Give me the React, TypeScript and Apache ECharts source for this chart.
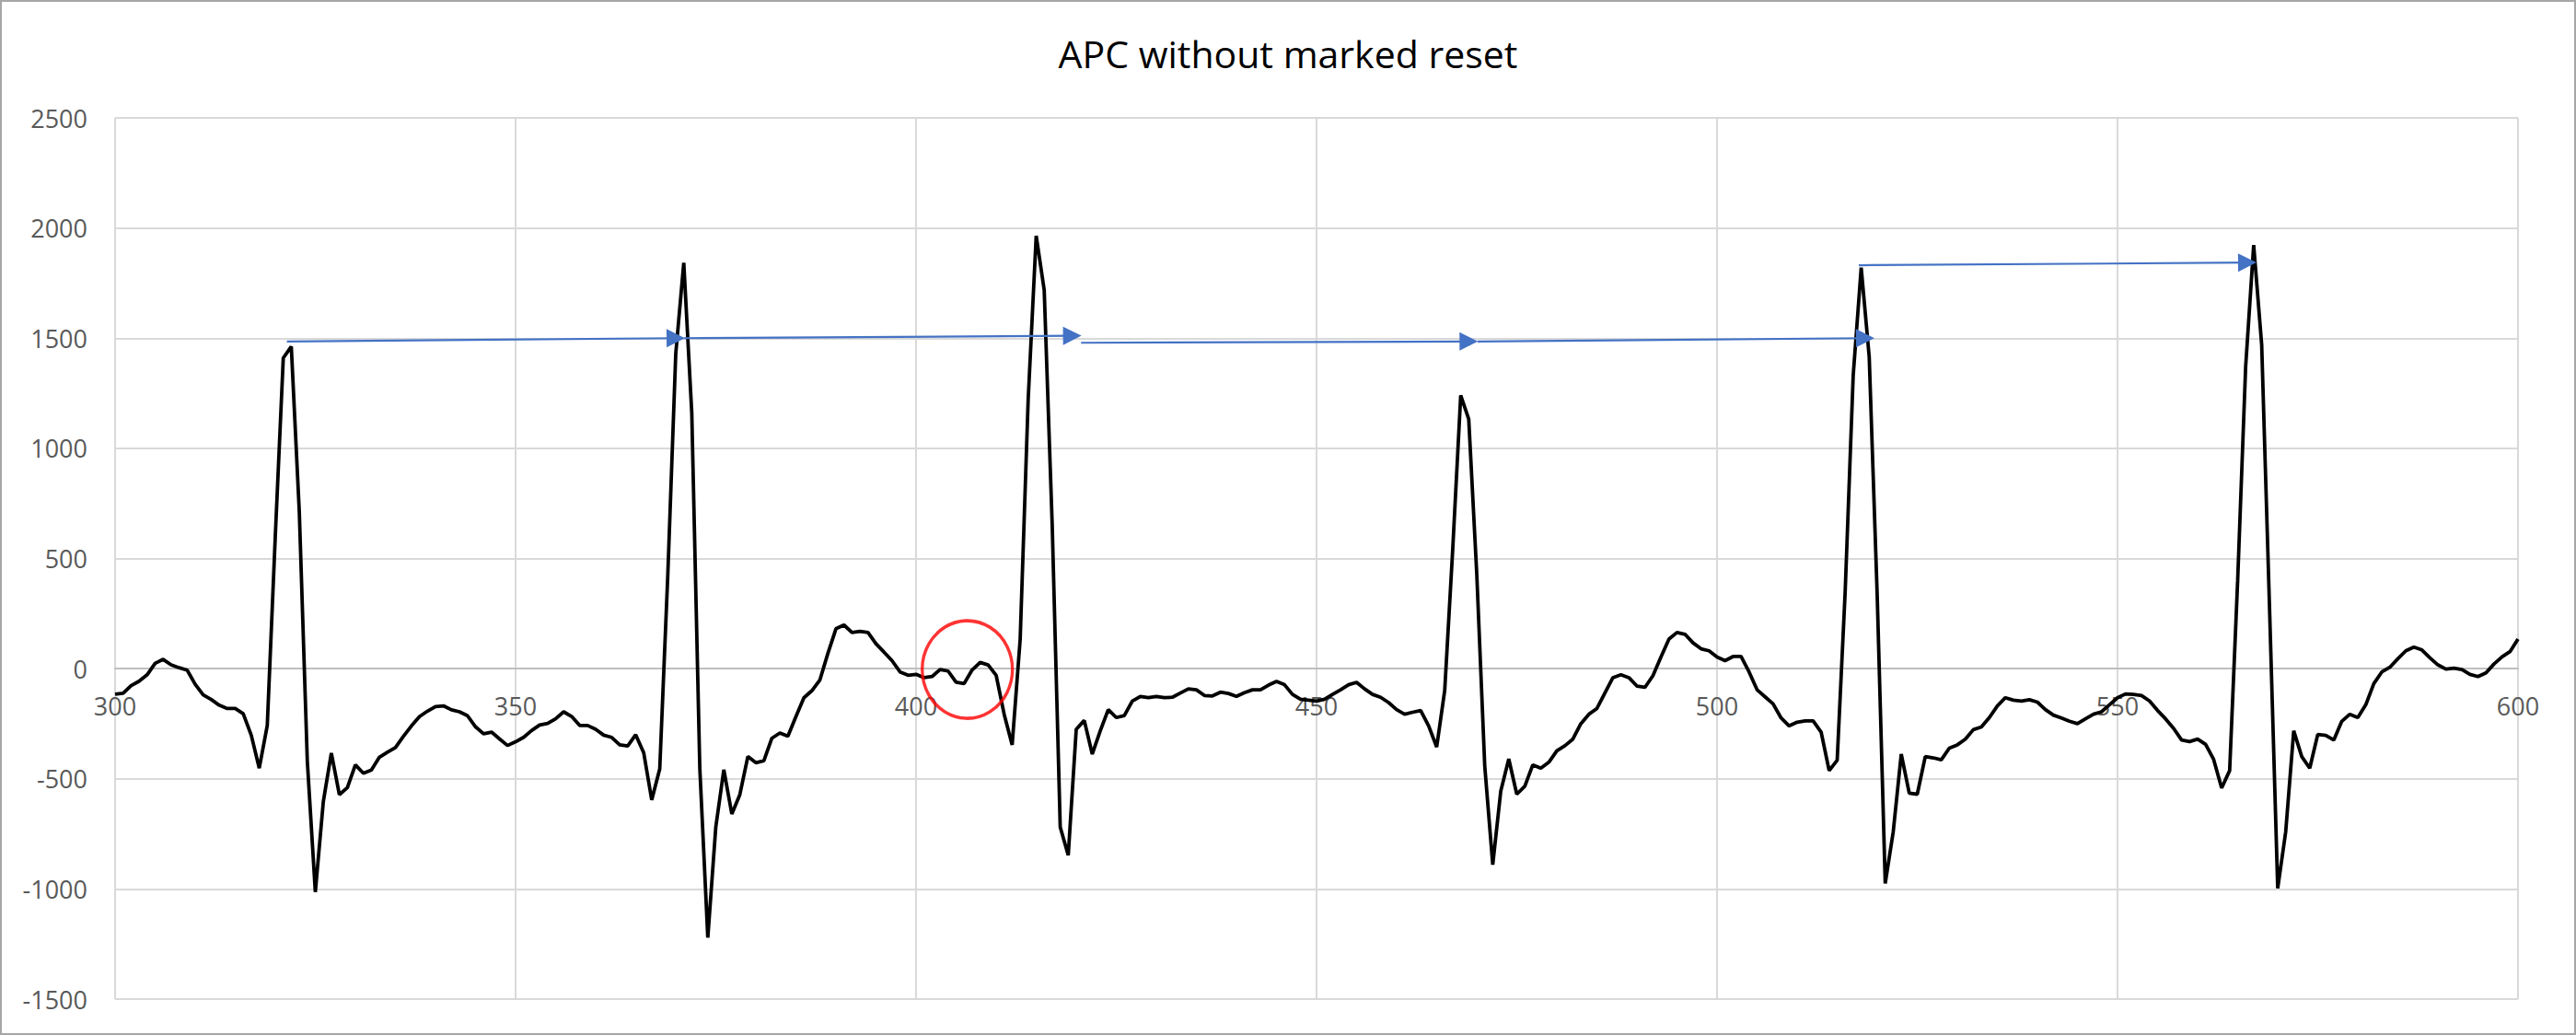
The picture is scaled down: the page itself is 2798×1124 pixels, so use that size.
import React, { useEffect, useRef } from "react";
import * as echarts from "echarts";

const TITLE = "APC without marked reset";
const X_START = 300;
const X_TICKS = [300, 350, 400, 450, 500, 550, 600];
const Y_TICKS = [-1500, -1000, -500, 0, 500, 1000, 1500, 2000, 2500];

// Signal samples, one per unit from 300 to 600
const signal300 = [
  -116, -112, -77, -57, -28, 24, 42, 17, 4, -7,
  -71, -119, -140, -166, -181, -181, -205, -302, -452, -258,
  600, 1410, 1462, 711, -420, -1014, -603, -383, -572, -540,
  -437, -475, -460, -402, -379, -358, -307, -260, -218, -193,
  -172, -169, -187, -196, -214, -264, -296, -288, -319, -349,
];
const signal350 = [
  -332, -312, -281, -256, -249, -228, -196, -217, -258, -258,
  -275, -302, -312, -346, -351, -300, -382, -596, -455, 420,
  1430, 1842, 1160, -450, -1221, -718, -459, -660, -572, -399,
  -427, -418, -316, -292, -307, -218, -132, -100, -51, 70,
  181, 198, 164, 169, 164, 113, 75, 36, -15, -30,
];
const signal400 = [
  -26, -41, -36, -4, -11, -62, -68, -6, 28, 17,
  -30, -207, -346, 134, 1223, 1965, 1718, 650, -719, -847,
  -275, -235, -388, -282, -186, -222, -213, -147, -126, -132,
  -126, -132, -130, -111, -92, -96, -122, -124, -107, -113,
  -126, -109, -96, -96, -75, -58, -73, -117, -139, -143,
];
const signal450 = [
  -147, -139, -117, -96, -73, -62, -92, -117, -130, -154,
  -186, -207, -198, -190, -260, -356, -100, 540, 1240, 1133,
  433, -442, -890, -556, -410, -570, -534, -437, -452, -425,
  -373, -350, -320, -250, -207, -181, -111, -41, -28, -41,
  -79, -85, -32, 53, 134, 164, 156, 117, 90, 81,
];
const signal500 = [
  53, 36, 55, 55, -15, -96, -128, -160, -224, -260,
  -243, -237, -237, -288, -463, -416, 350, 1330, 1820, 1415,
  330, -975, -740, -388, -565, -570, -399, -405, -414, -361,
  -346, -320, -277, -265, -222, -169, -132, -143, -147, -141,
  -152, -186, -211, -224, -239, -250, -228, -207, -196, -164,
];
const signal550 = [
  -132, -115, -117, -122, -147, -190, -228, -271, -324, -331,
  -320, -344, -412, -542, -463, 400, 1372, 1923, 1470, 250,
  -997, -740, -282, -399, -452, -299, -303, -324, -239, -207,
  -222, -164, -68, -15, 6, 45, 81, 98, 85, 49,
  17, -2, 2, -4, -26, -36, -19, 21, 53, 77,
  134,
];
const signal = [
  ...signal300, ...signal350, ...signal400, ...signal450, ...signal500, ...signal550,
];

// Blue arrows: [startX, startY, endX, endY]
const arrows = [
  [321.45, 1485, 370.0, 1500],
  [371.0, 1500, 419.5, 1511],
  [420.6, 1479, 469.0, 1485],
  [470.1, 1485, 518.5, 1500],
  [517.7, 1831, 566.2, 1843],
];

// Red circle marker (center)
const circleCenter = [406.4, -4];

const GRID_TOP = 128;
const GRID_BOTTOM = 39;
const CHART_H = 1124;

export default function App() {
  const ref = useRef<HTMLDivElement>(null);

  useEffect(() => {
    document.body.style.margin = "0";
    document.body.style.overflow = "hidden";
    if (!ref.current) return;
    const chart = echarts.init(ref.current, null, { renderer: "svg" });
    const font = "'Open Sans', 'Noto Sans', sans-serif";
    const lineData = signal.map((v, i) => [X_START + i, v]);
    const yMin = Y_TICKS[0];
    const yMax = Y_TICKS[Y_TICKS.length - 1];
    const plotH = CHART_H - GRID_TOP - GRID_BOTTOM;
    const zeroOffset = (plotH * (0 - yMin)) / (yMax - yMin);

    chart.setOption({
      animation: false,
      backgroundColor: "#ffffff",
      title: {
        text: TITLE,
        left: "center",
        top: 32,
        textStyle: {
          fontFamily: font,
          fontSize: 41,
          fontWeight: "normal",
          color: "#000000",
        },
      },
      graphic: [
        {
          type: "rect",
          shape: { x: 1, y: 1, width: 2796, height: 1122 },
          style: { fill: "none", stroke: "#A6A6A6", lineWidth: 2 },
          silent: true,
          z: 100,
        },
      ],
      grid: { left: 125, right: 63, top: GRID_TOP, bottom: GRID_BOTTOM, containLabel: false },
      xAxis: {
        type: "value",
        min: X_TICKS[0],
        max: X_TICKS[X_TICKS.length - 1],
        interval: 50,
        position: "bottom",
        offset: -zeroOffset,
        axisLine: { show: true, onZero: false, lineStyle: { color: "#BFBFBF", width: 2 } },
        axisTick: { show: false },
        axisLabel: {
          color: "#595959",
          fontFamily: font,
          fontSize: 27,
          margin: 27,
          showMinLabel: true,
          showMaxLabel: true,
          formatter: (v: number) => String(v),
        },
        splitLine: { show: true, lineStyle: { color: "#D9D9D9", width: 2 } },
      },
      yAxis: {
        type: "value",
        min: yMin,
        max: yMax,
        interval: 500,
        axisLine: { show: false },
        axisTick: { show: false },
        axisLabel: {
          color: "#595959",
          fontFamily: font,
          fontSize: 27,
          margin: 30,
          formatter: (v: number) => String(v),
        },
        splitLine: { show: true, lineStyle: { color: "#D9D9D9", width: 2 } },
      },
      series: [
        {
          type: "line",
          data: lineData,
          showSymbol: false,
          symbol: "none",
          lineStyle: { color: "#000000", width: 3.8 },
          z: 3,
        },
        {
          type: "lines",
          coordinateSystem: "cartesian2d",
          symbol: ["none", "triangle"],
          symbolSize: 20,
          lineStyle: { color: "#4472C4", width: 2.2, opacity: 1 },
          itemStyle: { color: "#4472C4" },
          data: arrows.map((a) => ({
            coords: [
              [a[0], a[1]],
              [a[2], a[3]],
            ],
          })),
          z: 5,
        },
        {
          type: "scatter",
          data: [circleCenter],
          symbol: "circle",
          symbolSize: [98, 106],
          itemStyle: { color: "rgba(0,0,0,0)", borderColor: "#FF0000", borderWidth: 3.5 },
          z: 6,
        },
      ],
    });
    return () => chart.dispose();
  }, []);

  return <div ref={ref} style={{ width: 2798, height: 1124 }} />;
}
